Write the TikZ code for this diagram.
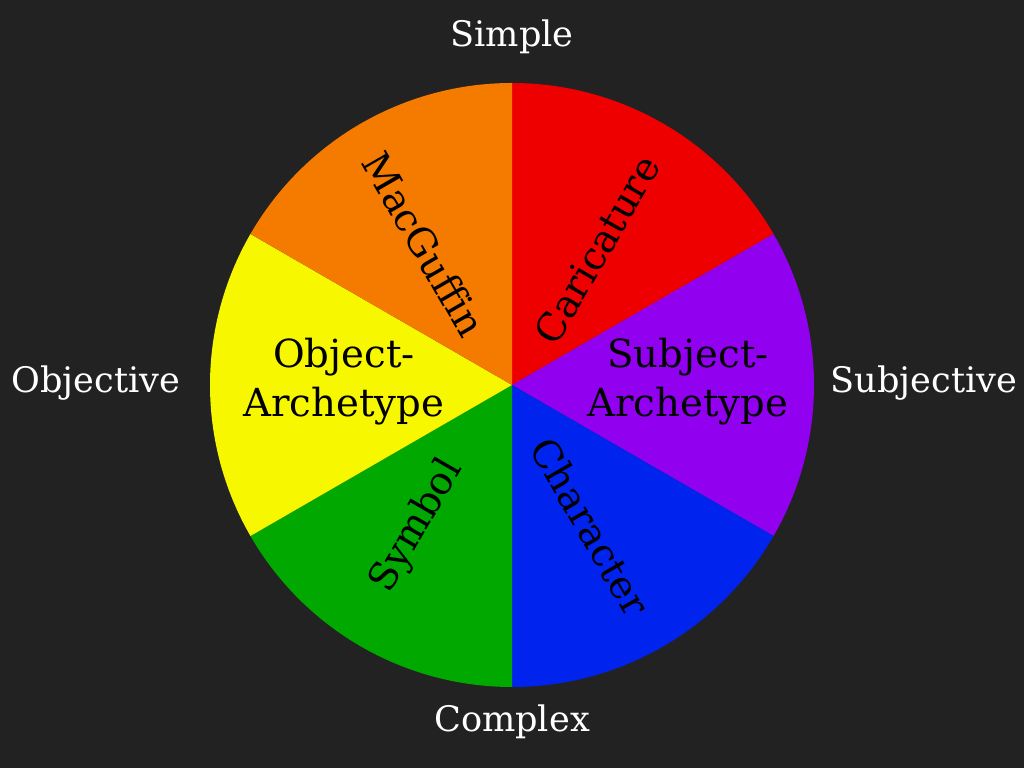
\documentclass[tikz,border=0pt]{standalone}
\usepackage{fontspec}
\setmainfont{DejaVu Serif}

\definecolor{bgdark}{HTML}{222222}
\definecolor{wheelred}{HTML}{EE0000}
\definecolor{wheelorange}{HTML}{F57A00}
\definecolor{wheelyellow}{HTML}{F7F700}
\definecolor{wheelgreen}{HTML}{00A800}
\definecolor{wheelblue}{HTML}{0024EE}
\definecolor{wheelpurple}{HTML}{9200F0}

\begin{document}
\begin{tikzpicture}[scale=0.02,
    slicelabel/.style={font=\fontsize{22}{28}\selectfont, align=center, inner sep=0pt},
    axislabel/.style={font=\fontsize{20}{24}\selectfont, inner sep=0pt, text=white}]
    \fill[bgdark] (-512,-383) rectangle (512,385);

    % the six slices
    \fill[wheelred] (0,0) -- (90:302) arc[start angle=90, end angle=30, radius=302] -- cycle;
    \fill[wheelpurple] (0,0) -- (30:302) arc[start angle=30, end angle=-30, radius=302] -- cycle;
    \fill[wheelblue] (0,0) -- (-30:302) arc[start angle=-30, end angle=-90, radius=302] -- cycle;
    \fill[wheelgreen] (0,0) -- (-90:302) arc[start angle=-90, end angle=-150, radius=302] -- cycle;
    \fill[wheelyellow] (0,0) -- (210:302) arc[start angle=210, end angle=150, radius=302] -- cycle;
    \fill[wheelorange] (0,0) -- (150:302) arc[start angle=150, end angle=90, radius=302] -- cycle;

    % slice texts
    \node[slicelabel, rotate=60] (caricature) at (58:160) {Caricature};
    \node[slicelabel, rotate=-60] (macguffin) at (122:166) {MacGuffin};
    \node[slicelabel, rotate=-60] (character) at (-61:162) {Character};
    \node[slicelabel, rotate=60] (symbol) at (236:170) {Symbol};
    \node[slicelabel] (subjarch) at (176,3) {Subject-\\Archetype};
    \node[slicelabel] (objarch) at (-168,3) {Object-\\Archetype};

    % axis texts
    \node[axislabel] (simple) at (0,348) {Simple};
    \node[axislabel] (complex) at (0,-337) {Complex};
    \node[axislabel] (objective) at (-416,2) {Objective};
    \node[axislabel] (subjective) at (412,2) {Subjective};
\end{tikzpicture}
\end{document}
